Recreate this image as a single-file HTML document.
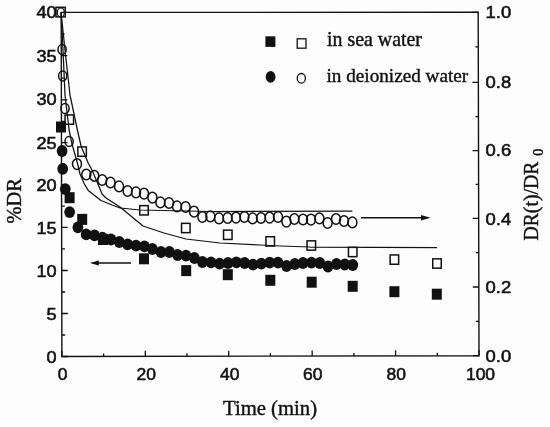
<!DOCTYPE html>
<html><head><meta charset="utf-8"><title>Drag reduction vs time</title>
<style>html,body{margin:0;padding:0;background:#fdfdfd;}svg{display:block;filter:blur(0.35px);}.s{font-family:"Liberation Sans",sans-serif;font-size:16.5px;fill:#111;stroke:#111;stroke-width:0.55px;}.t{font-family:"Liberation Serif",serif;font-size:19.5px;fill:#111;stroke:#111;stroke-width:0.4px;}</style></head><body>
<svg width="550" height="427" viewBox="0 0 550 427">
<rect width="550" height="427" fill="#fdfdfd"/>
<g id="plot">
<path d="M61.2 12.9L61.9 356.5L479 355.7L478.2 12.3L66 12.4" fill="none" stroke="#111" stroke-width="1.4" stroke-linejoin="miter"/>
<path d="M61.90 356.50h6M61.86 334.99h3.3M61.81 313.49h6M61.77 291.98h3.3M61.73 270.48h6M61.68 248.97h3.3M61.64 227.46h6M61.59 206.11h3.3M61.55 184.76h6M61.51 163.71h3.3M61.46 142.64h6M61.42 121.29h3.3M61.38 99.92h6M61.33 78.09h3.3M61.29 55.63h6M61.24 34.01h3.3M61.20 12.40h6M479.00 355.70h-6M478.92 321.36h-3M478.84 287.02h-6M478.76 252.68h-3M478.68 218.40h-6M478.60 184.32h-3M478.52 150.70h-6M478.44 116.71h-3M478.36 82.33h-6M478.28 46.80h-3M478.20 12.30h-6M61.90 356.50v-5.5M103.61 356.42v-3M145.32 356.34v-5.5M187.03 356.26v-3M228.74 356.18v-5.5M270.45 356.10v-3M312.16 356.02v-5.5M353.87 355.94v-3M395.58 355.86v-5.5M437.29 355.78v-3M479.00 355.70v-5.5" stroke="#111" stroke-width="1.3" fill="none"/>
<polyline points="61,12 63,50 65,95 69.1,130 72,144 77.4,163 80,174 84.4,184 88.2,190.4 101,200.5 112,205 120,208 140,210 210,211.5 352.4,211" fill="none" stroke="#111" stroke-width="1.25" stroke-linejoin="round"/>
<polyline points="61,12 65,50 70,95 77.4,130 81.2,146.5 88.2,163 92,170 99,186.5 102.2,194.2 106,198 120,207 143,226 164,233 186,239 220,243 260,245 280,246 310,247 437,247.6" fill="none" stroke="#111" stroke-width="1.25" stroke-linejoin="round"/>
<rect x="56" y="7.3" width="9.2" height="9.6" fill="none" stroke="#111" stroke-width="1.5"/>
<rect x="65.05" y="114.95" width="8.5" height="9.3" fill="none" stroke="#111" stroke-width="1.5"/>
<rect x="77.85" y="146.95" width="8.5" height="9.3" fill="none" stroke="#111" stroke-width="1.5"/>
<rect x="139.75" y="205.65" width="8.5" height="9.3" fill="none" stroke="#111" stroke-width="1.5"/>
<rect x="181.55" y="223.35" width="8.5" height="9.3" fill="none" stroke="#111" stroke-width="1.5"/>
<rect x="223.55" y="230.15" width="8.5" height="9.3" fill="none" stroke="#111" stroke-width="1.5"/>
<rect x="265.95" y="236.75" width="8.5" height="9.3" fill="none" stroke="#111" stroke-width="1.5"/>
<rect x="307.05" y="240.85" width="8.5" height="9.3" fill="none" stroke="#111" stroke-width="1.5"/>
<rect x="348.45" y="247.35" width="8.5" height="9.3" fill="none" stroke="#111" stroke-width="1.5"/>
<rect x="390.15" y="254.95" width="8.5" height="9.3" fill="none" stroke="#111" stroke-width="1.5"/>
<rect x="432.75" y="258.85" width="8.5" height="9.3" fill="none" stroke="#111" stroke-width="1.5"/>
<ellipse cx="60.8" cy="12.4" rx="3.5" ry="4.5" fill="none" stroke="#111" stroke-width="1.2"/>
<ellipse cx="62.1" cy="49.5" rx="4.1" ry="4.9" fill="none" stroke="#111" stroke-width="1.5"/>
<ellipse cx="62.7" cy="76" rx="4.1" ry="4.9" fill="none" stroke="#111" stroke-width="1.5"/>
<ellipse cx="65" cy="108.5" rx="4.1" ry="4.9" fill="none" stroke="#111" stroke-width="1.5"/>
<ellipse cx="69.1" cy="141.5" rx="4.1" ry="4.9" fill="none" stroke="#111" stroke-width="1.5"/>
<ellipse cx="77" cy="164.1" rx="4.5" ry="5.35" fill="none" stroke="#111" stroke-width="1.5"/>
<ellipse cx="86.3" cy="174.5" rx="4.5" ry="5.35" fill="none" stroke="#111" stroke-width="1.5"/>
<ellipse cx="94.3" cy="175.8" rx="4.5" ry="5.35" fill="none" stroke="#111" stroke-width="1.5"/>
<ellipse cx="102.2" cy="180" rx="4.5" ry="5.35" fill="none" stroke="#111" stroke-width="1.5"/>
<ellipse cx="110.5" cy="182.5" rx="4.5" ry="5.35" fill="none" stroke="#111" stroke-width="1.5"/>
<ellipse cx="119" cy="186.4" rx="4.5" ry="5.35" fill="none" stroke="#111" stroke-width="1.5"/>
<ellipse cx="127.6" cy="191" rx="4.5" ry="5.35" fill="none" stroke="#111" stroke-width="1.5"/>
<ellipse cx="136" cy="192.4" rx="4.5" ry="5.35" fill="none" stroke="#111" stroke-width="1.5"/>
<ellipse cx="144" cy="193.6" rx="4.5" ry="5.35" fill="none" stroke="#111" stroke-width="1.5"/>
<ellipse cx="152.4" cy="197.6" rx="4.5" ry="5.35" fill="none" stroke="#111" stroke-width="1.5"/>
<ellipse cx="160.4" cy="202.4" rx="4.5" ry="5.35" fill="none" stroke="#111" stroke-width="1.5"/>
<ellipse cx="169" cy="203" rx="4.5" ry="5.35" fill="none" stroke="#111" stroke-width="1.5"/>
<ellipse cx="177" cy="206.4" rx="4.5" ry="5.35" fill="none" stroke="#111" stroke-width="1.5"/>
<ellipse cx="185.6" cy="207" rx="4.5" ry="5.35" fill="none" stroke="#111" stroke-width="1.5"/>
<ellipse cx="194" cy="211.6" rx="4.5" ry="5.35" fill="none" stroke="#111" stroke-width="1.5"/>
<ellipse cx="202.4" cy="217" rx="4.5" ry="5.35" fill="none" stroke="#111" stroke-width="1.5"/>
<ellipse cx="210.4" cy="216.4" rx="4.5" ry="5.35" fill="none" stroke="#111" stroke-width="1.5"/>
<ellipse cx="219" cy="218.4" rx="4.5" ry="5.35" fill="none" stroke="#111" stroke-width="1.5"/>
<ellipse cx="227.6" cy="218" rx="4.5" ry="5.35" fill="none" stroke="#111" stroke-width="1.5"/>
<ellipse cx="236" cy="217.6" rx="4.5" ry="5.35" fill="none" stroke="#111" stroke-width="1.5"/>
<ellipse cx="244.4" cy="217" rx="4.5" ry="5.35" fill="none" stroke="#111" stroke-width="1.5"/>
<ellipse cx="252.6" cy="218.4" rx="4.5" ry="5.35" fill="none" stroke="#111" stroke-width="1.5"/>
<ellipse cx="261" cy="218" rx="4.5" ry="5.35" fill="none" stroke="#111" stroke-width="1.5"/>
<ellipse cx="269.6" cy="217.6" rx="4.5" ry="5.35" fill="none" stroke="#111" stroke-width="1.5"/>
<ellipse cx="278" cy="217" rx="4.5" ry="5.35" fill="none" stroke="#111" stroke-width="1.5"/>
<ellipse cx="286.4" cy="221.6" rx="4.5" ry="5.35" fill="none" stroke="#111" stroke-width="1.5"/>
<ellipse cx="294.4" cy="219" rx="4.5" ry="5.35" fill="none" stroke="#111" stroke-width="1.5"/>
<ellipse cx="303" cy="219.5" rx="4.5" ry="5.35" fill="none" stroke="#111" stroke-width="1.5"/>
<ellipse cx="311" cy="219.6" rx="4.5" ry="5.35" fill="none" stroke="#111" stroke-width="1.5"/>
<ellipse cx="319.4" cy="218.4" rx="4.5" ry="5.35" fill="none" stroke="#111" stroke-width="1.5"/>
<ellipse cx="327.6" cy="223" rx="4.5" ry="5.35" fill="none" stroke="#111" stroke-width="1.5"/>
<ellipse cx="336" cy="219" rx="4.5" ry="5.35" fill="none" stroke="#111" stroke-width="1.5"/>
<ellipse cx="344" cy="221" rx="4.5" ry="5.35" fill="none" stroke="#111" stroke-width="1.5"/>
<ellipse cx="352.4" cy="222.4" rx="4.5" ry="5.35" fill="none" stroke="#111" stroke-width="1.5"/>
<rect x="56" y="121.5" width="10" height="11" fill="#111"/>
<rect x="64.6" y="192.2" width="10" height="11" fill="#111"/>
<rect x="77.2" y="213.9" width="10" height="11" fill="#111"/>
<rect x="98" y="234" width="10" height="11" fill="#111"/>
<rect x="139" y="253.3" width="10" height="11" fill="#111"/>
<rect x="181.2" y="265.1" width="10" height="11" fill="#111"/>
<rect x="222.8" y="269.2" width="10" height="11" fill="#111"/>
<rect x="265.3" y="274.8" width="10" height="11" fill="#111"/>
<rect x="306.7" y="276.7" width="10" height="11" fill="#111"/>
<rect x="347.7" y="280.8" width="10" height="11" fill="#111"/>
<rect x="389.4" y="286.2" width="10" height="11" fill="#111"/>
<rect x="431.8" y="288.7" width="10" height="11" fill="#111"/>
<ellipse cx="62.1" cy="151" rx="5.4" ry="5.9" fill="#111"/>
<ellipse cx="62.7" cy="168.8" rx="5.4" ry="5.9" fill="#111"/>
<ellipse cx="65.3" cy="189.1" rx="5.4" ry="5.9" fill="#111"/>
<ellipse cx="69.6" cy="212.1" rx="5.4" ry="5.9" fill="#111"/>
<ellipse cx="77.9" cy="227.4" rx="5.4" ry="5.9" fill="#111"/>
<ellipse cx="86.2" cy="234.4" rx="5.4" ry="5.9" fill="#111"/>
<ellipse cx="94.5" cy="235.4" rx="5.4" ry="5.9" fill="#111"/>
<ellipse cx="102.4" cy="237.6" rx="5.4" ry="5.9" fill="#111"/>
<ellipse cx="111" cy="239.5" rx="5.4" ry="5.9" fill="#111"/>
<ellipse cx="119.3" cy="242" rx="5.4" ry="5.9" fill="#111"/>
<ellipse cx="127.6" cy="244.4" rx="5.4" ry="5.9" fill="#111"/>
<ellipse cx="136" cy="245.6" rx="5.4" ry="5.9" fill="#111"/>
<ellipse cx="144.4" cy="246.4" rx="5.4" ry="5.9" fill="#111"/>
<ellipse cx="152.4" cy="249" rx="5.4" ry="5.9" fill="#111"/>
<ellipse cx="161" cy="252" rx="5.4" ry="5.9" fill="#111"/>
<ellipse cx="169.4" cy="252" rx="5.4" ry="5.9" fill="#111"/>
<ellipse cx="177.6" cy="255" rx="5.4" ry="5.9" fill="#111"/>
<ellipse cx="186" cy="255.6" rx="5.4" ry="5.9" fill="#111"/>
<ellipse cx="194.4" cy="258" rx="5.4" ry="5.9" fill="#111"/>
<ellipse cx="202.4" cy="262" rx="5.4" ry="5.9" fill="#111"/>
<ellipse cx="211" cy="262.4" rx="5.4" ry="5.9" fill="#111"/>
<ellipse cx="219.6" cy="263.6" rx="5.4" ry="5.9" fill="#111"/>
<ellipse cx="228" cy="263" rx="5.4" ry="5.9" fill="#111"/>
<ellipse cx="236.4" cy="262.4" rx="5.4" ry="5.9" fill="#111"/>
<ellipse cx="244.6" cy="263" rx="5.4" ry="5.9" fill="#111"/>
<ellipse cx="253" cy="264.6" rx="5.4" ry="5.9" fill="#111"/>
<ellipse cx="261.4" cy="263.6" rx="5.4" ry="5.9" fill="#111"/>
<ellipse cx="269.7" cy="262.6" rx="5.4" ry="5.9" fill="#111"/>
<ellipse cx="278" cy="262.6" rx="5.4" ry="5.9" fill="#111"/>
<ellipse cx="286.5" cy="266" rx="5.4" ry="5.9" fill="#111"/>
<ellipse cx="294.8" cy="264" rx="5.4" ry="5.9" fill="#111"/>
<ellipse cx="303" cy="263" rx="5.4" ry="5.9" fill="#111"/>
<ellipse cx="311.5" cy="262.6" rx="5.4" ry="5.9" fill="#111"/>
<ellipse cx="319.8" cy="263" rx="5.4" ry="5.9" fill="#111"/>
<ellipse cx="328" cy="266.5" rx="5.4" ry="5.9" fill="#111"/>
<ellipse cx="336.5" cy="264" rx="5.4" ry="5.9" fill="#111"/>
<ellipse cx="344.8" cy="264.5" rx="5.4" ry="5.9" fill="#111"/>
<ellipse cx="352.8" cy="265" rx="5.4" ry="5.9" fill="#111"/>
<path d="M361 217.8H424" stroke="#111" stroke-width="1.4"/><path d="M430.5 217.8l-9.5-2.7v5.4z" fill="#111"/>
<path d="M131 263H96" stroke="#111" stroke-width="1.4"/><path d="M89.8 263l9-2.5v5z" fill="#111"/>
</g>
<text class="s" transform="translate(56.7,362.7) scale(1.1,1)" text-anchor="end">0</text>
<text class="s" transform="translate(56.7,319.5) scale(1.1,1)" text-anchor="end">5</text>
<text class="s" transform="translate(56.7,276.9) scale(1.1,1)" text-anchor="end">10</text>
<text class="s" transform="translate(56.7,233.5) scale(1.1,1)" text-anchor="end">15</text>
<text class="s" transform="translate(56.7,190.8) scale(1.1,1)" text-anchor="end">20</text>
<text class="s" transform="translate(56.7,148.7) scale(1.1,1)" text-anchor="end">25</text>
<text class="s" transform="translate(56.7,105.0) scale(1.1,1)" text-anchor="end">30</text>
<text class="s" transform="translate(56.7,61.9) scale(1.1,1)" text-anchor="end">35</text>
<text class="s" transform="translate(56.7,18.1) scale(1.1,1)" text-anchor="end">40</text>
<text class="s" transform="translate(485.5,362.2) scale(1.12,1)">0.0</text>
<text class="s" transform="translate(485.5,292.9) scale(1.12,1)">0.2</text>
<text class="s" transform="translate(485.5,225.0) scale(1.12,1)">0.4</text>
<text class="s" transform="translate(485.5,156.2) scale(1.12,1)">0.6</text>
<text class="s" transform="translate(485.5,87.8) scale(1.12,1)">0.8</text>
<text class="s" transform="translate(485.5,18.2) scale(1.12,1)">1.0</text>
<text class="s" transform="translate(62.7,380) scale(1.06,1)" text-anchor="middle">0</text>
<text class="s" transform="translate(146.2,380) scale(1.06,1)" text-anchor="middle">20</text>
<text class="s" transform="translate(229.8,380) scale(1.06,1)" text-anchor="middle">40</text>
<text class="s" transform="translate(312.8,380) scale(1.06,1)" text-anchor="middle">60</text>
<text class="s" transform="translate(396.3,380) scale(1.06,1)" text-anchor="middle">80</text>
<text class="s" transform="translate(480.5,380) scale(1.06,1)" text-anchor="middle">100</text>
<text class="t" x="223" y="414.5" style="font-size:20.7px">Time (min)</text>
<text class="t" transform="translate(21.3,223.5) rotate(-90)" style="font-size:20.4px">%DR</text>
<text class="t" transform="translate(537.7,240.5) rotate(-90) scale(1,1.07)" style="font-size:19.7px">DR(t)/DR<tspan dx="6" dy="5" style="font-size:14px">0</tspan></text>
<rect x="265.4" y="36.3" width="10" height="10.6" fill="#111"/>
<rect x="297.2" y="38.8" width="8.8" height="9.4" fill="#fdfdfd" stroke="#111" stroke-width="1.3"/>
<ellipse cx="270.6" cy="76.9" rx="4.9" ry="5.9" fill="#111"/>
<ellipse cx="301.3" cy="78.3" rx="4.1" ry="4.8" fill="#fdfdfd" stroke="#111" stroke-width="1.3"/>
<text class="t" x="327" y="45.7" style="font-size:19.9px">in sea water</text>
<text class="t" x="326.5" y="81.8" style="font-size:19.2px">in deionized water</text>
</svg></body></html>
